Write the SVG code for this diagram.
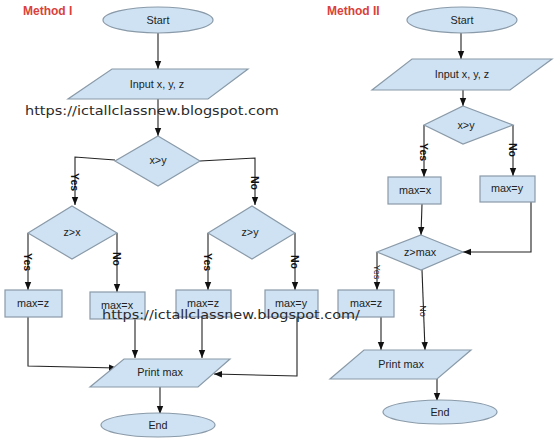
<svg xmlns="http://www.w3.org/2000/svg" width="558" height="446" viewBox="0 0 558 446">
<defs>
<marker id="ah" viewBox="0 0 8 8" refX="8" refY="4" markerWidth="8" markerHeight="8" markerUnits="userSpaceOnUse" orient="auto">
<path d="M0,0.8 L8,4 L0,7.2 Z" fill="#111"/>
</marker>
<style>
.s{fill:#cfe2f3;stroke:#8a9aa8;stroke-width:1.2}
.t{font-family:"Liberation Sans",Arial,sans-serif;font-size:10.8px;fill:#222;text-anchor:middle}
.l{font-family:"Liberation Sans",Arial,sans-serif;font-size:10.5px;fill:#111;text-anchor:middle;font-weight:bold}
.c{fill:none;stroke:#222;stroke-width:1.1}
.a{marker-end:url(#ah)}
.h{font-family:"Liberation Sans",Arial,sans-serif;font-size:12px;font-weight:bold;fill:#d9413a}
.w{font-family:"DejaVu Sans",Verdana,sans-serif;font-size:13px;fill:#2b2b2b}
</style>
</defs>
<rect width="558" height="446" fill="#fff"/>
<text class="h" x="23" y="15">Method I</text>
<text class="h" x="327" y="15">Method II</text>

<g id="connectors">
<line class="c a" x1="158" y1="33" x2="158" y2="69"/>
<line class="c a" x1="158" y1="99" x2="158" y2="136"/>
<polyline class="c a" points="115,160 75,157 75,205"/>
<polyline class="c a" points="200,161 255,158 255,205"/>
<line class="c a" x1="28" y1="233" x2="28" y2="290"/>
<line class="c a" x1="117" y1="233" x2="117" y2="292"/>
<line class="c a" x1="208" y1="233" x2="208" y2="290"/>
<line class="c a" x1="295" y1="233" x2="295" y2="290"/>
<polyline class="c a" points="28,317 28,366 117,368"/>
<line class="c a" x1="135" y1="319" x2="135" y2="358"/>
<line class="c a" x1="202" y1="317" x2="202" y2="358"/>
<polyline class="c a" points="297,317 297,376 214,374"/>
<line class="c a" x1="160" y1="387" x2="160" y2="414"/>

<line class="c a" x1="461" y1="33" x2="461" y2="59"/>
<line class="c a" x1="463" y1="90" x2="463" y2="106"/>
<line class="c a" x1="424" y1="125" x2="424" y2="177"/>
<line class="c a" x1="513" y1="125" x2="513" y2="176"/>
<line class="c a" x1="422" y1="204" x2="421" y2="235"/>
<polyline class="c a" points="531,202 531,252 463,252"/>
<line class="c a" x1="377" y1="252" x2="377" y2="290"/>
<line class="c a" x1="422" y1="270" x2="425" y2="350"/>
<line class="c a" x1="381" y1="317" x2="381" y2="350"/>
<line class="c a" x1="437" y1="379" x2="437" y2="401"/>
</g>

<g id="labels">
<text class="l" transform="translate(71,182) rotate(90)">Yes</text>
<text class="l" transform="translate(251,183) rotate(90)">No</text>
<text class="l" transform="translate(24,262) rotate(90)">Yes</text>
<text class="l" transform="translate(113,259) rotate(90)">No</text>
<text class="l" transform="translate(204,262) rotate(90)">Yes</text>
<text class="l" transform="translate(291,262) rotate(90)">No</text>
<text class="l" transform="translate(420,152) rotate(90)">Yes</text>
<text class="l" transform="translate(509,150) rotate(90)">No</text>
<text class="t" transform="translate(374,272) rotate(90)" style="font-size:9px">Yes</text>
<text class="t" transform="translate(420,311) rotate(90)" style="font-size:9px">No</text>
</g>

<g id="m1-start"><ellipse class="s" cx="158" cy="20" rx="55" ry="13"/><text class="t" x="158" y="24">Start</text></g>
<g id="m1-input"><polygon class="s" points="112,69 248,69 208,99 68,99"/><text class="t" x="157" y="88">Input x, y, z</text></g>
<g id="m1-xy"><polygon class="s" points="158,136 200,161 158,186 115,161"/><text class="t" x="158" y="164">x&gt;y</text></g>
<g id="m1-zx"><polygon class="s" points="72,206 117,233 72,259 28,233"/><text class="t" x="72" y="236">z&gt;x</text></g>
<g id="m1-zy"><polygon class="s" points="252,206 295,233 252,259 208,233"/><text class="t" x="250" y="236">z&gt;y</text></g>
<g id="m1-maxz1"><rect class="s" x="5" y="290" width="57" height="27"/><text class="t" x="33" y="307">max=z</text></g>
<g id="m1-maxx"><rect class="s" x="90" y="292" width="55" height="27"/><text class="t" x="117" y="309">max=x</text></g>
<g id="m1-maxz2"><rect class="s" x="176" y="290" width="55" height="27"/><text class="t" x="203" y="307">max=z</text></g>
<g id="m1-maxy"><rect class="s" x="265" y="290" width="53" height="27"/><text class="t" x="291" y="307">max=y</text></g>
<g id="m1-print"><polygon class="s" points="124,359 230,359 198,387 90,387"/><text class="t" x="160" y="376">Print max</text></g>
<g id="m1-end"><ellipse class="s" cx="158" cy="425" rx="57" ry="12"/><text class="t" x="158" y="429">End</text></g>

<g id="m2-start"><ellipse class="s" cx="462" cy="20" rx="55" ry="13"/><text class="t" x="462" y="24">Start</text></g>
<g id="m2-input"><polygon class="s" points="412,59 552,59 510,90 372,90"/><text class="t" x="462" y="78">Input x, y, z</text></g>
<g id="m2-xy"><polygon class="s" points="463,106 513,125 463,144 424,125"/><text class="t" x="466" y="129">x&gt;y</text></g>
<g id="m2-maxx"><rect class="s" x="388" y="177" width="53" height="27"/><text class="t" x="415" y="194">max=x</text></g>
<g id="m2-maxy"><rect class="s" x="480" y="176" width="55" height="26"/><text class="t" x="507" y="192">max=y</text></g>
<g id="m2-zmax"><polygon class="s" points="421,235 463,252 421,270 377,252"/><text class="t" x="420" y="256">z&gt;max</text></g>
<g id="m2-maxz"><rect class="s" x="338" y="290" width="56" height="27"/><text class="t" x="366" y="307">max=z</text></g>
<g id="m2-print"><polygon class="s" points="364,350 471,350 437,379 330,379"/><text class="t" x="401" y="368">Print max</text></g>
<g id="m2-end"><ellipse class="s" cx="440" cy="412" rx="57" ry="12"/><text class="t" x="440" y="416">End</text></g>

<text class="w" x="25" y="115" textLength="254" lengthAdjust="spacingAndGlyphs">https://ictallclassnew.blogspot.com</text>
<text class="w" x="102" y="319" textLength="258" lengthAdjust="spacingAndGlyphs">https://ictallclassnew.blogspot.com/</text>
</svg>
